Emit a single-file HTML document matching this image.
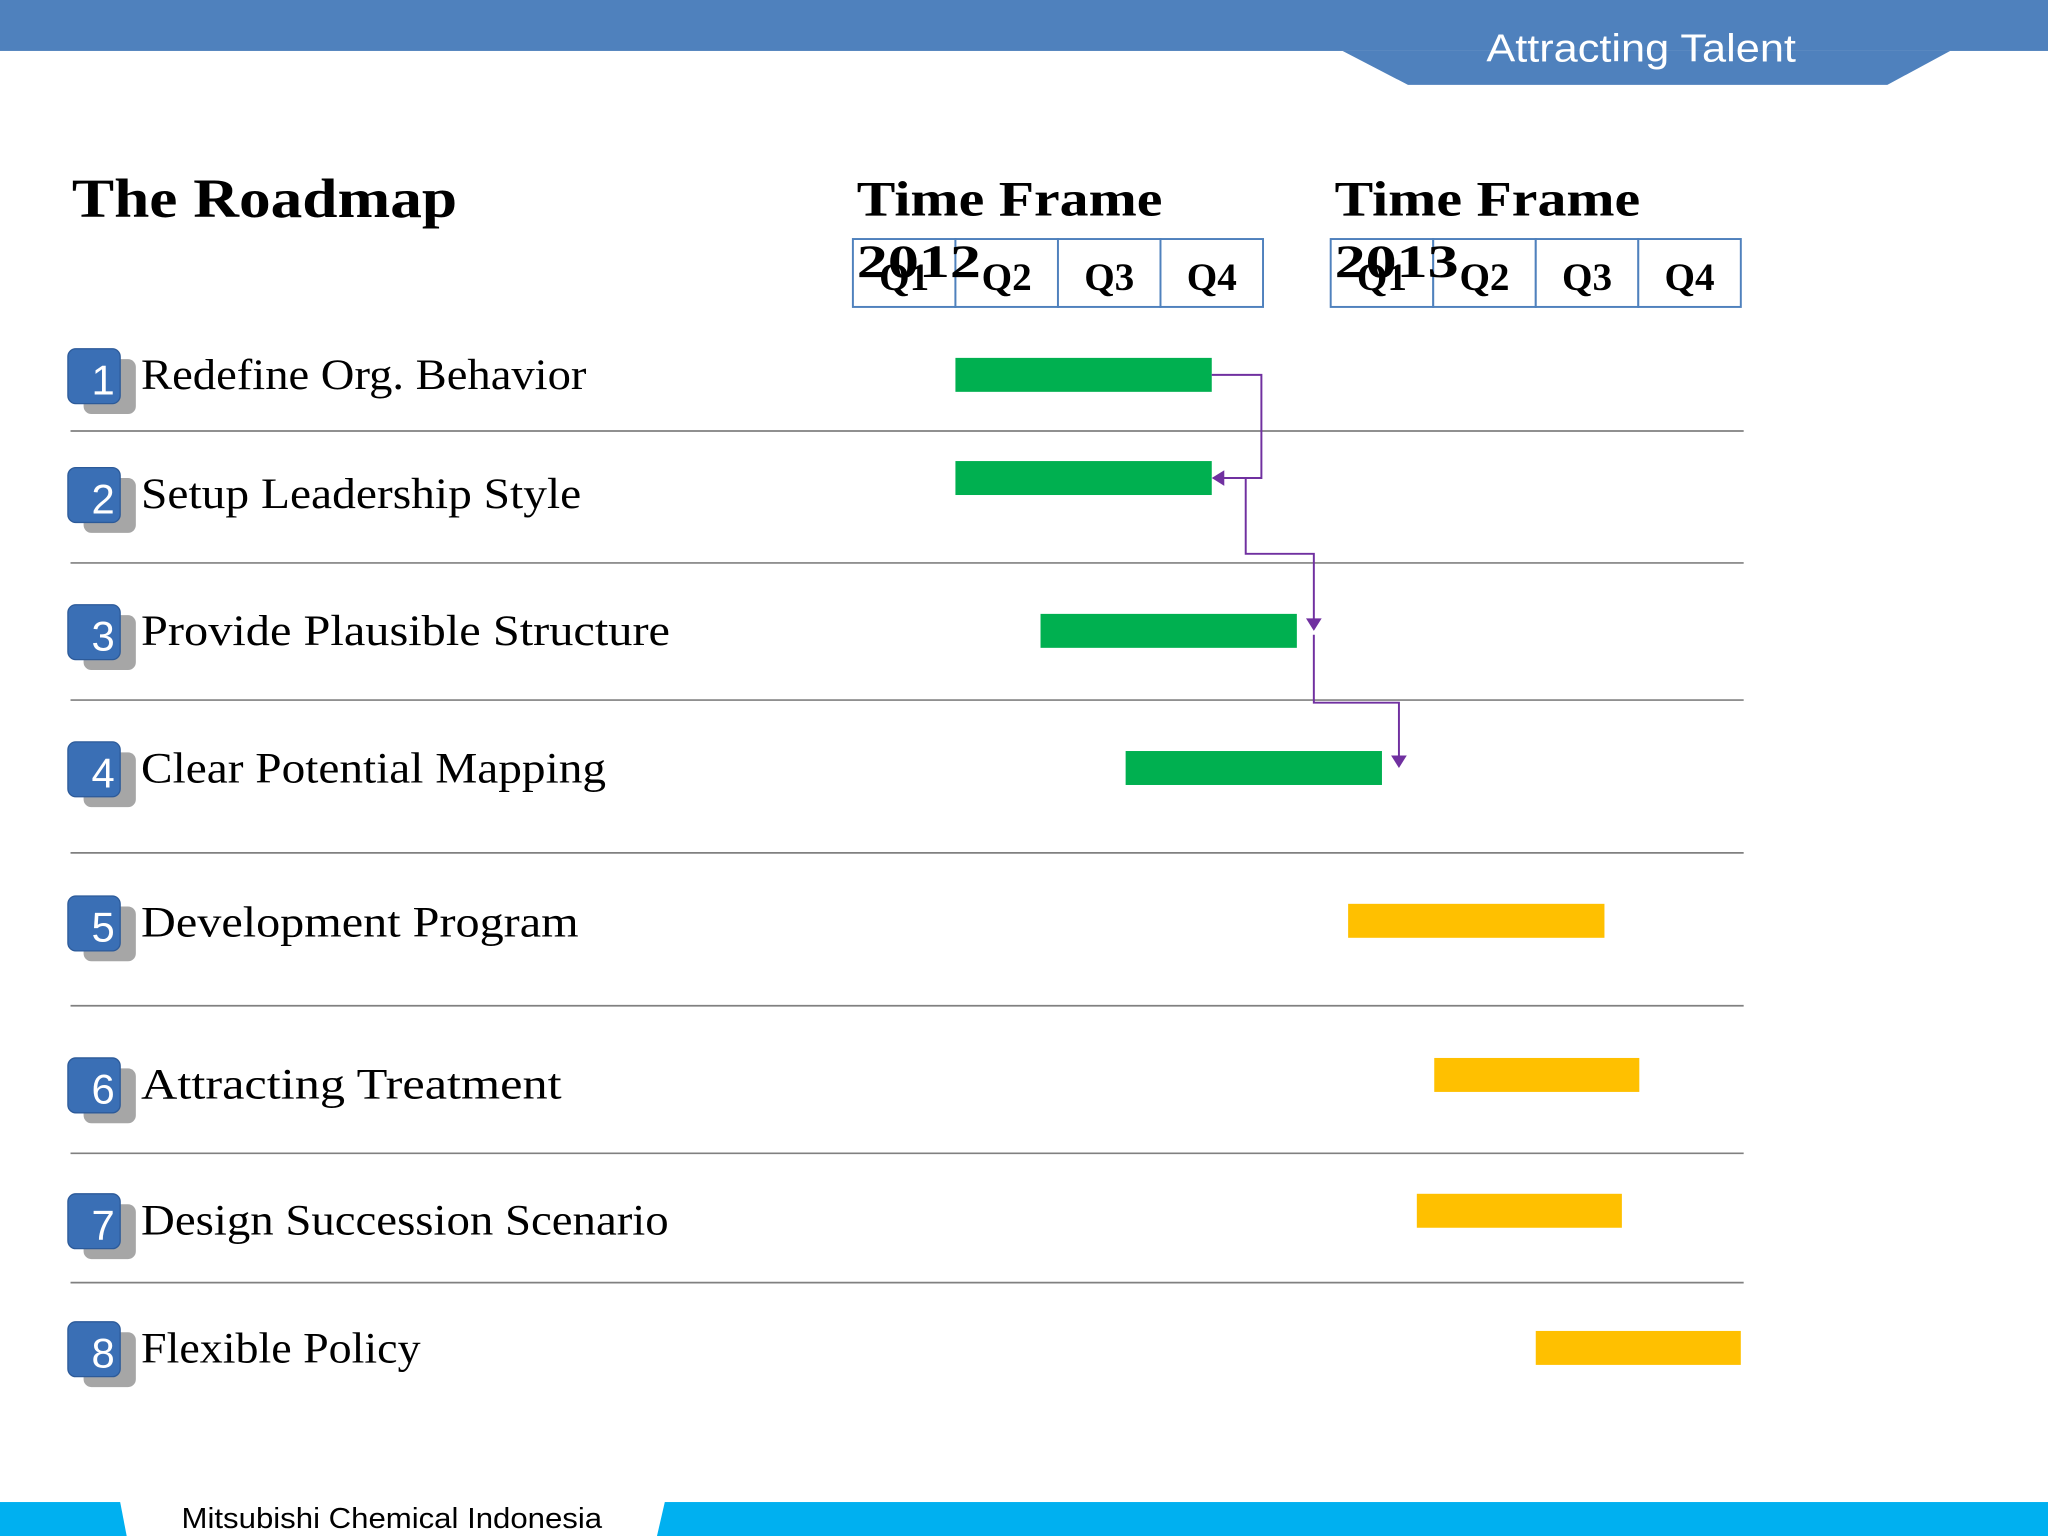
<!DOCTYPE html>
<html><head><meta charset="utf-8"><style>
html,body{margin:0;padding:0;background:#fff}
svg{display:block}
text{font-family:"Liberation Serif","DejaVu Serif",serif}
</style></head><body>
<svg id="chart" width="2048" height="1536" viewBox="0 0 1568 1176" xmlns="http://www.w3.org/2000/svg">
<rect x="0" y="0" width="1568" height="39" fill="#4f81bd"/>
<polygon points="1028,39 1493,39 1445,65 1078,65" fill="#4f81bd"/>
<text x="1138" y="47" textLength="237" lengthAdjust="spacingAndGlyphs" fill="#fff" font-size="30" style="font-family:'Liberation Sans',sans-serif">Attracting Talent</text>
<rect x="0" y="1150" width="1568" height="26" fill="#00b0f0"/>
<polygon points="92,1150 509,1150 503,1176 97,1176" fill="#fff"/>
<text x="139" y="1170" textLength="322" lengthAdjust="spacingAndGlyphs" font-size="22" fill="#000" style="font-family:'Liberation Sans',sans-serif">Mitsubishi Chemical Indonesia</text>
<text x="55" y="166" textLength="295" lengthAdjust="spacingAndGlyphs" font-size="42" font-weight="bold">The Roadmap</text>
<g id="axes"></g>
<g id="rows"></g>
<g id="bars"></g>
<g id="links" fill="none" stroke="#7030a0" stroke-width="1.5"></g>
</svg>
<script>
const tasks=["Redefine Org. Behavior","Setup Leadership Style","Provide Plausible Structure","Clear Potential Mapping","Development Program","Attracting  Treatment","Design Succession Scenario","Flexible Policy"];
const barStart=[1.0,1.0,1.83,2.66,4.83,5.67,5.5,6.66];
const barLength=[2.5,2.5,2.5,2.5,2.5,2.0,2.0,2.0];
const barPhase=["a","a","a","a","b","b","b","b"];
const years=["2012","2013"];
const quarterLabels=["Q1","Q2","Q3","Q4"];
const yearStart=[0,4.66];

const NS="http://www.w3.org/2000/svg";
const X0=653,QW=78.5;
const xs=q=>X0+q*QW;
const labelY=[287,378,483,588,706,830,934,1032];
const labelW=[341,337,405,356,335,322,404,214];
const barY=[287,366,483,588,705,823,927,1032];
const sepY=[330,431,536,653,770,883,982];
function mk(tag,attrs,parent,txt){const e=document.createElementNS(NS,tag);for(const k in attrs)e.setAttribute(k,attrs[k]);if(txt!==undefined)e.textContent=txt;parent.appendChild(e);return e;}
const axes=document.getElementById('axes'),rows=document.getElementById('rows'),bars=document.getElementById('bars'),links=document.getElementById('links');
years.forEach((yr,i)=>{
  const x=xs(yearStart[i]);
  let t=mk('text',{x:x+3,y:165,'font-size':38,'font-weight':'bold',textLength:234,lengthAdjust:'spacingAndGlyphs'},axes,'Time Frame');
  
  
  quarterLabels.forEach((q,j)=>{
    const r=mk('rect',{x:x+j*QW,y:183,width:QW,height:52,fill:'#fff',stroke:'#4f81bd','stroke-width':1.5},axes);
    
    
    const tq=mk('text',{x:x+j*QW+QW/2,y:222,'text-anchor':'middle','font-size':30,'font-weight':'bold'},axes,q);
    
    
  });
  const ty=mk('text',{x:x+3,y:212,'font-size':36,'font-weight':'bold',textLength:95,lengthAdjust:'spacingAndGlyphs'},axes,yr);
  
  
});
sepY.forEach((y,i)=>{
  const l=mk('line',{x1:54,x2:1335,y1:y,y2:y,stroke:'#808080','stroke-width':1.3},rows);
  
  
});
tasks.forEach((t,i)=>{
  const y=labelY[i];
  const g=mk('g',{},rows);
  
  
  mk('rect',{x:64,y:y-12,width:40,height:42,rx:6,fill:'#a6a6a6'},g);
  mk('rect',{x:52,y:y-20,width:40,height:42,rx:6,fill:'#3a6fb5',stroke:'#2c5a99','stroke-width':1},g);
  mk('text',{x:79,y:y+15,'text-anchor':'middle','font-size':32,fill:'#fff',style:"font-family:'Liberation Sans',sans-serif"},g,String(i+1));
  const tx=mk('text',{x:108,y:y+11,'font-size':33,textLength:labelW[i],lengthAdjust:'spacingAndGlyphs'},rows,t);
  
  
  const b=mk('rect',{x:xs(barStart[i]),y:barY[i]-13,width:barLength[i]*QW,height:26,fill:barPhase[i]==='a'?'#00b050':'#ffc000'},bars);
  
  
});
const e=i=>xs(barStart[i]+barLength[i]);
function arrow(x,y,dir,name){const s=6;let p;if(dir==='left')p=[[x,y],[x+s*1.6,y-s],[x+s*1.6,y+s]];else p=[[x,y],[x-s,y-s*1.6],[x+s,y-s*1.6]];
  const a=mk('polygon',{points:p.map(v=>v.join(',')).join(' '),fill:'#7030a0',stroke:'none'},links);
  }
let p1=mk('polyline',{points:`${e(0)},${barY[0]} ${e(0)+38},${barY[0]} ${e(0)+38},${barY[1]} ${e(1)+6},${barY[1]}`},links);

arrow(e(1),barY[1],'left','arrow-1-2');
let p2=mk('polyline',{points:`${e(1)+26},${barY[1]} ${e(1)+26},${barY[1]+58} ${e(2)+13},${barY[1]+58} ${e(2)+13},${barY[2]-6}`},links);

arrow(e(2)+13,barY[2],'down','arrow-2-3');
let p3=mk('polyline',{points:`${e(2)+13},${barY[2]+3} ${e(2)+13},${barY[2]+55} ${e(3)+13},${barY[2]+55} ${e(3)+13},${barY[3]-6}`},links);

arrow(e(3)+13,barY[3],'down','arrow-3-4');
</script>
</body></html>
